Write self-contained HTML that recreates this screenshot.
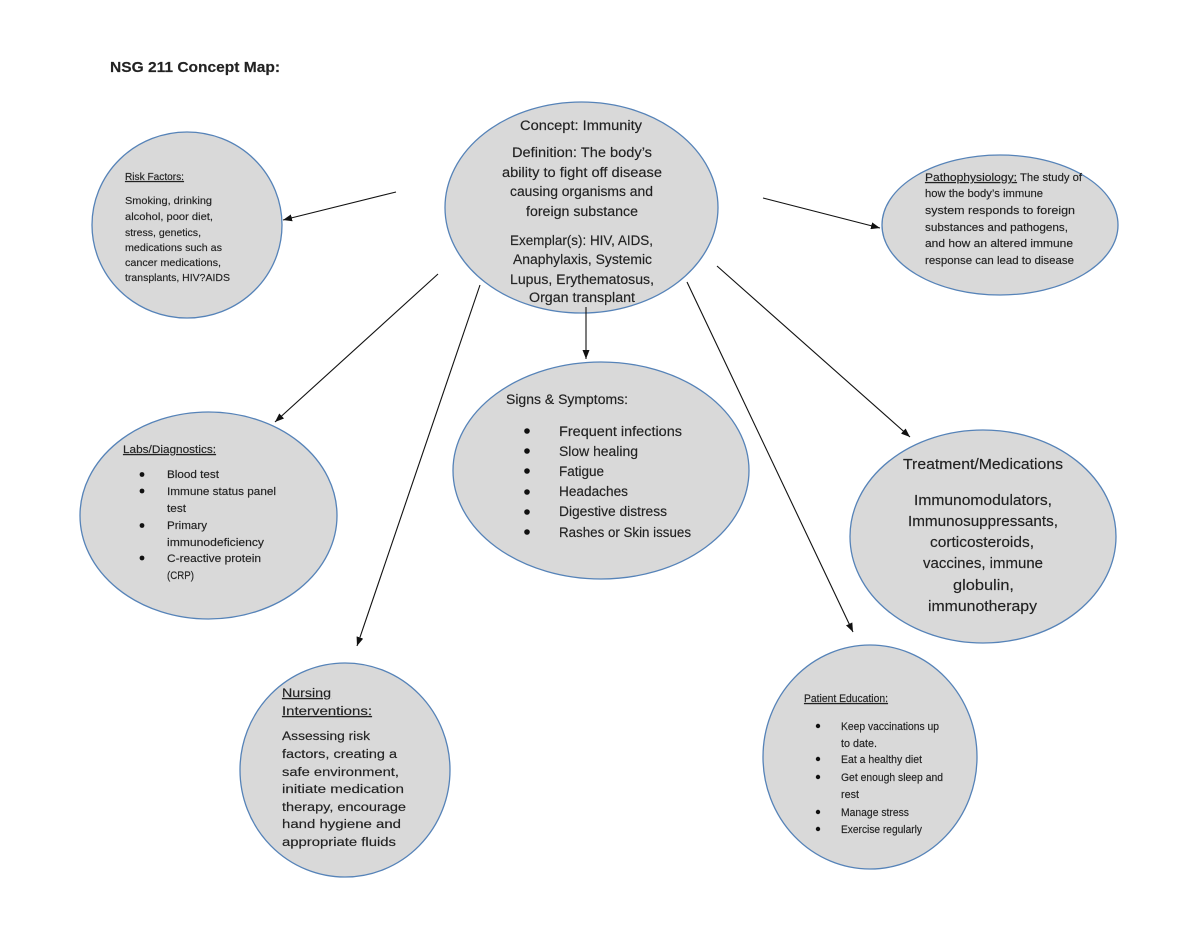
<!DOCTYPE html>
<html>
<head>
<meta charset="utf-8">
<style>
  html, body { margin: 0; padding: 0; background: #ffffff; }
  svg { display: block; }
  text { font-family: "Liberation Sans", sans-serif; fill: #222222; stroke: #222222; stroke-width: 0.15; }
</style>
</head>
<body>
<svg width="1200" height="927" viewBox="0 0 1200 927" xmlns="http://www.w3.org/2000/svg">
  <defs>
    <marker id="ah" markerWidth="9" markerHeight="7" refX="9" refY="3.5" orient="auto" markerUnits="userSpaceOnUse">
      <path d="M0,0 L9,3.5 L0,7 z" fill="#111"/>
    </marker>
  </defs>

  <!-- Title -->
  <text x="110" y="72" font-size="15" font-weight="bold" fill="#111" textLength="170" lengthAdjust="spacingAndGlyphs">NSG 211 Concept Map:</text>

  <!-- Ellipses -->
  <g fill="#d9d9d9" stroke="#5683b8" stroke-width="1.3">
    <ellipse cx="581.5" cy="207.5" rx="136.5" ry="105.5"/>
    <ellipse cx="187" cy="225" rx="95" ry="93"/>
    <ellipse cx="1000" cy="225" rx="118" ry="70"/>
    <ellipse cx="208.5" cy="515.5" rx="128.5" ry="103.5"/>
    <ellipse cx="601" cy="470.5" rx="148" ry="108.5"/>
    <ellipse cx="983" cy="536.5" rx="133" ry="106.5"/>
    <ellipse cx="345" cy="770" rx="105" ry="107"/>
    <ellipse cx="870" cy="757" rx="107" ry="112"/>
  </g>

  <!-- Arrows -->
  <g stroke="#111" stroke-width="1.1" fill="none" marker-end="url(#ah)">
    <line x1="396" y1="192" x2="283" y2="220"/>
    <line x1="763" y1="198" x2="880" y2="228"/>
    <line x1="438" y1="274" x2="275" y2="422"/>
    <line x1="480" y1="285" x2="357" y2="646"/>
    <line x1="586" y1="307" x2="586" y2="359"/>
    <line x1="687" y1="282" x2="853" y2="632"/>
    <line x1="717" y1="266" x2="910" y2="437"/>
  </g>

  <!-- Center concept -->
  <g font-size="13.5">
    <text x="520" y="130" textLength="122" lengthAdjust="spacingAndGlyphs">Concept: Immunity</text>
    <text x="512" y="157" textLength="140" lengthAdjust="spacingAndGlyphs">Definition: The body’s</text>
    <text x="502" y="177" textLength="160" lengthAdjust="spacingAndGlyphs">ability to fight off disease</text>
    <text x="510" y="196" textLength="143" lengthAdjust="spacingAndGlyphs">causing organisms and</text>
    <text x="526" y="216" textLength="112" lengthAdjust="spacingAndGlyphs">foreign substance</text>
    <text x="510" y="245" textLength="143" lengthAdjust="spacingAndGlyphs">Exemplar(s): HIV, AIDS,</text>
    <text x="513" y="264" textLength="139" lengthAdjust="spacingAndGlyphs">Anaphylaxis, Systemic</text>
    <text x="510" y="284" textLength="144" lengthAdjust="spacingAndGlyphs">Lupus, Erythematosus,</text>
    <text x="529" y="302" textLength="106" lengthAdjust="spacingAndGlyphs">Organ transplant</text>
  </g>

  <!-- Risk Factors -->
  <g font-size="10.5">
    <text x="125" y="180" textLength="59" lengthAdjust="spacingAndGlyphs" text-decoration="underline">Risk Factors:</text>
    <text x="125" y="204" textLength="87" lengthAdjust="spacingAndGlyphs">Smoking, drinking</text>
    <text x="125" y="220" textLength="88" lengthAdjust="spacingAndGlyphs">alcohol, poor diet,</text>
    <text x="125" y="236" textLength="76" lengthAdjust="spacingAndGlyphs">stress, genetics,</text>
    <text x="125" y="251" textLength="97" lengthAdjust="spacingAndGlyphs">medications such as</text>
    <text x="125" y="266" textLength="96" lengthAdjust="spacingAndGlyphs">cancer medications,</text>
    <text x="125" y="281" textLength="105" lengthAdjust="spacingAndGlyphs">transplants, HIV?AIDS</text>
  </g>

  <!-- Pathophysiology -->
  <g font-size="11">
    <text x="925" y="181" textLength="92" lengthAdjust="spacingAndGlyphs" text-decoration="underline">Pathophysiology:</text>
    <text x="1020" y="181" textLength="62" lengthAdjust="spacingAndGlyphs">The study of</text>
    <text x="925" y="197" textLength="118" lengthAdjust="spacingAndGlyphs">how the body’s immune</text>
    <text x="925" y="214" textLength="150" lengthAdjust="spacingAndGlyphs">system responds to foreign</text>
    <text x="925" y="231" textLength="143" lengthAdjust="spacingAndGlyphs">substances and pathogens,</text>
    <text x="925" y="247" textLength="148" lengthAdjust="spacingAndGlyphs">and how an altered immune</text>
    <text x="925" y="264" textLength="149" lengthAdjust="spacingAndGlyphs">response can lead to disease</text>
  </g>

  <!-- Labs/Diagnostics -->
  <g font-size="11">
    <text x="123" y="453" textLength="93" lengthAdjust="spacingAndGlyphs" text-decoration="underline">Labs/Diagnostics:</text>
    <text x="167" y="478" textLength="52" lengthAdjust="spacingAndGlyphs">Blood test</text>
    <text x="167" y="495" textLength="109" lengthAdjust="spacingAndGlyphs">Immune status panel</text>
    <text x="167" y="512" textLength="19" lengthAdjust="spacingAndGlyphs">test</text>
    <text x="167" y="529" textLength="40" lengthAdjust="spacingAndGlyphs">Primary</text>
    <text x="167" y="546" textLength="97" lengthAdjust="spacingAndGlyphs">immunodeficiency</text>
    <text x="167" y="562" textLength="94" lengthAdjust="spacingAndGlyphs">C-reactive protein</text>
    <text x="167" y="579" textLength="27" lengthAdjust="spacingAndGlyphs">(CRP)</text>
  </g>
  <g fill="#111">
    <circle cx="142" cy="474.5" r="2.4"/>
    <circle cx="142" cy="491" r="2.4"/>
    <circle cx="142" cy="525.5" r="2.4"/>
    <circle cx="142" cy="558" r="2.4"/>
  </g>

  <!-- Signs & Symptoms -->
  <g font-size="13.5">
    <text x="506" y="404" textLength="122" lengthAdjust="spacingAndGlyphs">Signs &amp; Symptoms:</text>
    <text x="559" y="436" textLength="123" lengthAdjust="spacingAndGlyphs">Frequent infections</text>
    <text x="559" y="456" textLength="79" lengthAdjust="spacingAndGlyphs">Slow healing</text>
    <text x="559" y="476" textLength="45" lengthAdjust="spacingAndGlyphs">Fatigue</text>
    <text x="559" y="496" textLength="69" lengthAdjust="spacingAndGlyphs">Headaches</text>
    <text x="559" y="516" textLength="108" lengthAdjust="spacingAndGlyphs">Digestive distress</text>
    <text x="559" y="537" textLength="132" lengthAdjust="spacingAndGlyphs">Rashes or Skin issues</text>
  </g>
  <g fill="#111">
    <circle cx="527" cy="431" r="2.8"/>
    <circle cx="527" cy="451" r="2.8"/>
    <circle cx="527" cy="471" r="2.8"/>
    <circle cx="527" cy="492" r="2.8"/>
    <circle cx="527" cy="512" r="2.8"/>
    <circle cx="527" cy="532" r="2.8"/>
  </g>

  <!-- Treatment/Medications -->
  <g font-size="15">
    <text x="903" y="469" textLength="160" lengthAdjust="spacingAndGlyphs">Treatment/Medications</text>
    <text x="914" y="505" textLength="138" lengthAdjust="spacingAndGlyphs">Immunomodulators,</text>
    <text x="908" y="526" textLength="150" lengthAdjust="spacingAndGlyphs">Immunosuppressants,</text>
    <text x="930" y="547" textLength="104" lengthAdjust="spacingAndGlyphs">corticosteroids,</text>
    <text x="923" y="568" textLength="120" lengthAdjust="spacingAndGlyphs">vaccines, immune</text>
    <text x="953" y="590" textLength="61" lengthAdjust="spacingAndGlyphs">globulin,</text>
    <text x="928" y="611" textLength="109" lengthAdjust="spacingAndGlyphs">immunotherapy</text>
  </g>

  <!-- Nursing Interventions -->
  <g font-size="11.5">
    <text x="282" y="697" textLength="49" lengthAdjust="spacingAndGlyphs" text-decoration="underline">Nursing</text>
    <text x="282" y="715" textLength="90" lengthAdjust="spacingAndGlyphs" text-decoration="underline">Interventions:</text>
    <text x="282" y="740" textLength="88" lengthAdjust="spacingAndGlyphs">Assessing risk</text>
    <text x="282" y="758" textLength="115" lengthAdjust="spacingAndGlyphs">factors, creating a</text>
    <text x="282" y="776" textLength="117" lengthAdjust="spacingAndGlyphs">safe environment,</text>
    <text x="282" y="793" textLength="122" lengthAdjust="spacingAndGlyphs">initiate medication</text>
    <text x="282" y="811" textLength="124" lengthAdjust="spacingAndGlyphs">therapy, encourage</text>
    <text x="282" y="828" textLength="119" lengthAdjust="spacingAndGlyphs">hand hygiene  and</text>
    <text x="282" y="846" textLength="114" lengthAdjust="spacingAndGlyphs">appropriate fluids</text>
  </g>

  <!-- Patient Education -->
  <g font-size="11">
    <text x="804" y="702" textLength="84" lengthAdjust="spacingAndGlyphs" text-decoration="underline">Patient Education:</text>
    <text x="841" y="730" textLength="98" lengthAdjust="spacingAndGlyphs">Keep vaccinations up</text>
    <text x="841" y="747" textLength="36" lengthAdjust="spacingAndGlyphs">to date.</text>
    <text x="841" y="763" textLength="81" lengthAdjust="spacingAndGlyphs">Eat a healthy diet</text>
    <text x="841" y="781" textLength="102" lengthAdjust="spacingAndGlyphs">Get enough sleep and</text>
    <text x="841" y="798" textLength="18" lengthAdjust="spacingAndGlyphs">rest</text>
    <text x="841" y="816" textLength="68" lengthAdjust="spacingAndGlyphs">Manage stress</text>
    <text x="841" y="833" textLength="81" lengthAdjust="spacingAndGlyphs">Exercise regularly</text>
  </g>
  <g fill="#111">
    <circle cx="818" cy="726" r="2.2"/>
    <circle cx="818" cy="759" r="2.2"/>
    <circle cx="818" cy="777" r="2.2"/>
    <circle cx="818" cy="812" r="2.2"/>
    <circle cx="818" cy="829" r="2.2"/>
  </g>
</svg>
</body>
</html>
